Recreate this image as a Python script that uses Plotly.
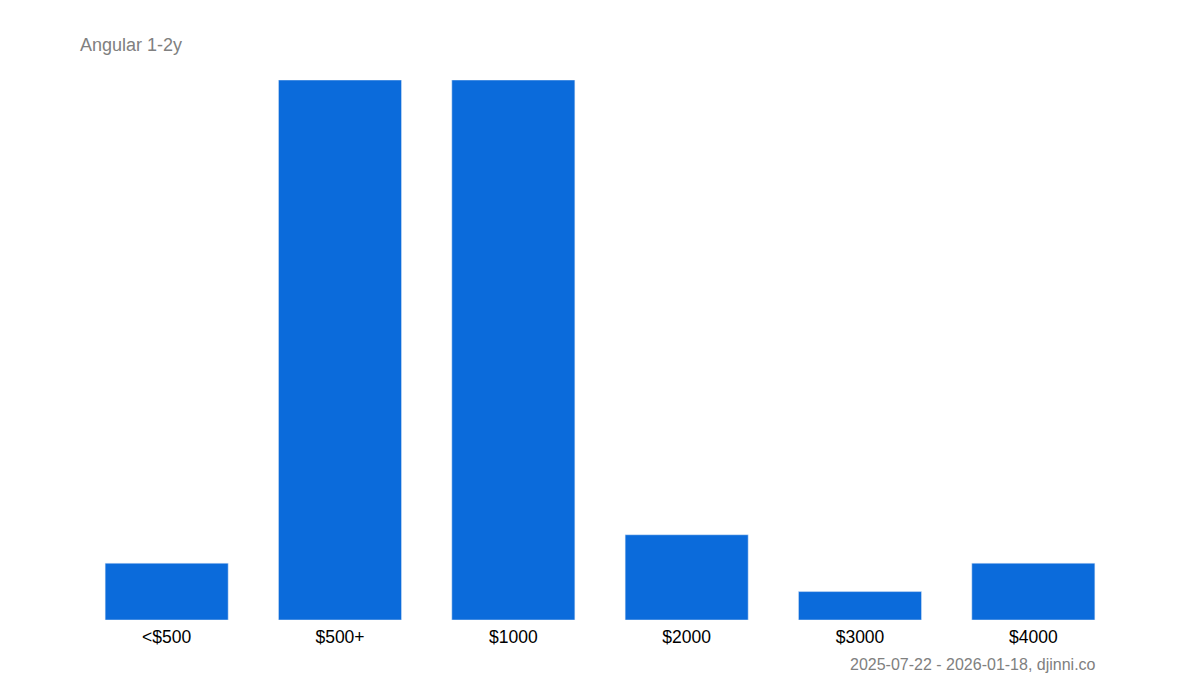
import plotly.graph_objects as go

categories = ["<$500", "$500+", "$1000", "$2000", "$3000", "$4000"]
counts = [2, 19, 19, 3, 1, 2]

title_text = "Angular 1-2y"
footer_text = "2025-07-22 - 2026-01-18, djinni.co"

fig = go.Figure(go.Bar(x=categories, y=counts, marker_color="#0B6BDB", hoverinfo="x+y"))

fig.update_layout(
    width=1200,
    height=700,
    paper_bgcolor="white",
    plot_bgcolor="white",
    font=dict(family="Liberation Sans, Arial, sans-serif", size=16, color="black"),
    title=dict(text=title_text, x=72 / 1200, xanchor="left", y=1 - 37 / 700, yanchor="middle",
               font=dict(size=18, color="#808080")),
    margin=dict(l=72, r=88, t=72, b=88),
    bargap=0.29,
    showlegend=False,
    xaxis=dict(showgrid=False, showline=False, ticks="", ticklabelstandoff=4,
               tickfont=dict(size=17.5, color="black")),
    yaxis=dict(visible=False, range=[0, 19], showgrid=False),
    annotations=[dict(
        text=footer_text, xref="paper", yref="paper", x=1, y=0, xanchor="right", yanchor="middle",
        xshift=-22, yshift=-44, showarrow=False, font=dict(size=16, color="#808080"),
    )],
)

fig.write_html("out.html")
